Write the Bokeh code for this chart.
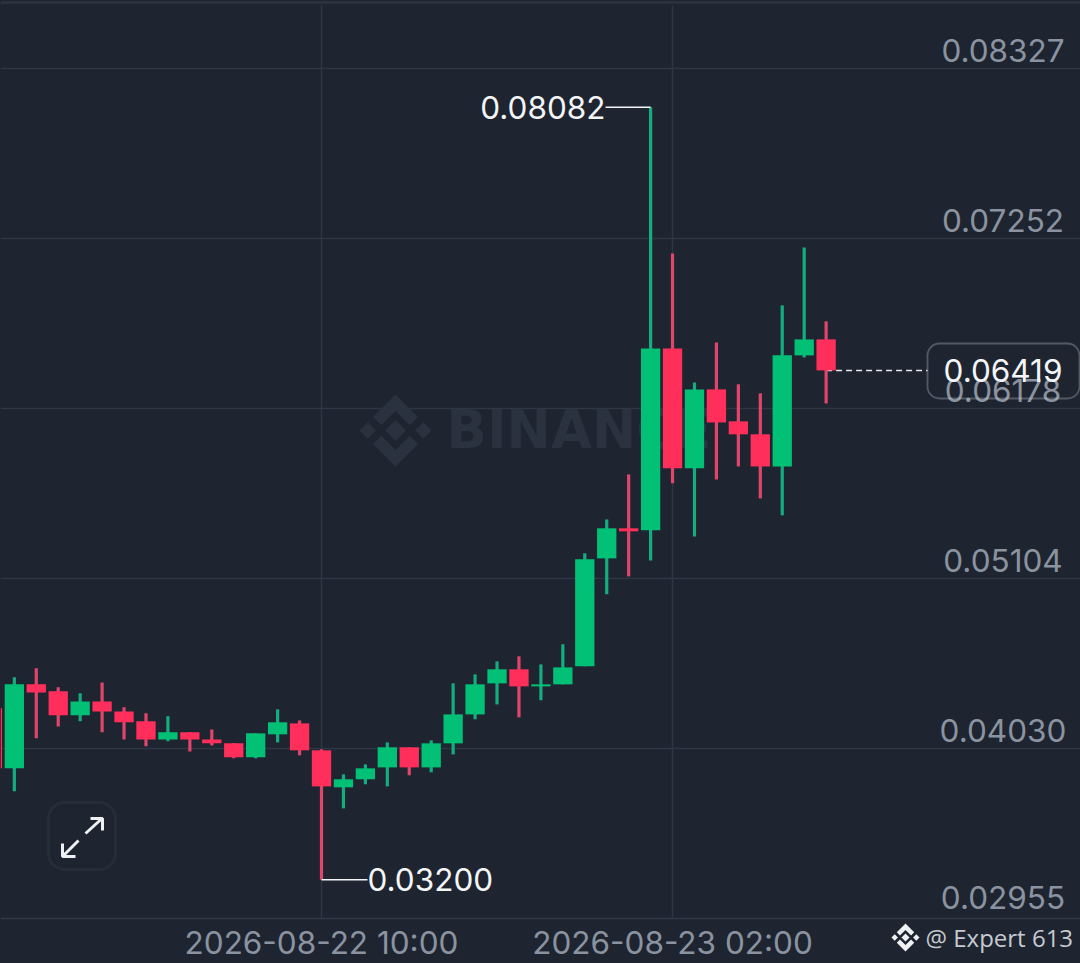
import pandas as pd
from bokeh.core.properties import value
from bokeh.embed import file_html
from bokeh.models import (BoxAnnotation, ColumnDataSource, DatetimeTickFormatter, FixedTicker,
                          GlobalInlineStyleSheet, Label, PolyAnnotation, Range1d)
from bokeh.plotting import figure
from bokeh.resources import INLINE

# ---- data -------------------------------------------------------------
start_time = "2026-08-21 19:00"
opens = [.04283, .03904, .04435, .04391, .04239, .04327, .04264, .04201, .04087, .04132, .04087,
         .04062, .03974, .04119, .04188, .04018, .03784, .03835, .03910, .04037, .03910, .04062,
         .04245, .04441, .04530, .04422, .04435, .04549, .05231, .05421, .05408, .06558, .05800,
         .06299, .06097, .06015, .05812, .06514, .06615]
highs = [.04283, .04479, .04536, .04416, .04378, .04447, .04290, .04252, .04233, .04132, .04150,
         .04062, .04125, .04277, .04207, .04024, .03866, .03929, .04068, .04037, .04081, .04441,
         .04498, .04580, .04612, .04561, .04688, .05263, .05477, .05762, .08082, .07158, .06343,
         .06596, .06331, .06274, .06830, .07196, .06729]
lows = [.03904, .03759, .04094, .04169, .04201, .04132, .04087, .04043, .04075, .04011, .04049,
        .03967, .03967, .04068, .03986, .03200, .03651, .03803, .03790, .03860, .03879, .03992,
        .04214, .04308, .04226, .04334, .04435, .04549, .05004, .05117, .05218, .05705, .05370,
        .05730, .05812, .05610, .05503, .06501, .06210]
closes = [.03904, .04435, .04384, .04239, .04327, .04264, .04195, .04087, .04132, .04087, .04062,
          .03974, .04125, .04195, .04018, .03790, .03835, .03904, .04037, .03910, .04062, .04245,
          .04435, .04530, .04422, .04435, .04542, .05225, .05421, .05402, .06558, .05800, .06299,
          .06090, .06015, .05812, .06514, .06615, .06419]
y_ticks = [.08327, .07252, .06178, .05104, .04030, .02955]
y_labels = ["0.08327", "0.07252", "0.06178", "0.05104", "0.04030", "0.02955"]
x_ticks = ["2026-08-22 10:00", "2026-08-23 02:00"]
last_price = closes[-1]

# ---- styling ----------------------------------------------------------
BG, GRID, AXIS_TXT, WHITE = "#1e2530", "#2e3743", "#8b93a0", "#f4f5f6"
GREEN, RED, GREEN_W, RED_W = "#02c076", "#ff2e5b", "#14ad7f", "#e0456c"
WM = "#29323e"
FONT = value("Inter")
SIZE = "31.5px"
HOUR = 3600000.0
T0 = pd.Timestamp(x_ticks[0]).value / 1e6
PX_HOUR = 21.94


def tx(px):
    return T0 + (px - 321) / PX_HOUR * HOUR


def py(px):
    return .08327 - (px - 68) * (.08327 - .02955) / 850


times = pd.date_range(start_time, periods=len(opens), freq="h")
up = [c >= o for o, c in zip(opens, closes)]
rows = dict(t=times, o=opens, h=highs, l=lows, c=closes,
            top=[max(a, b) for a, b in zip(opens, closes)], bot=[min(a, b) for a, b in zip(opens, closes)],
            fill=[GREEN if u else RED for u in up], wick=[GREEN_W if u else RED_W for u in up])
src = ColumnDataSource(rows)

p = figure(frame_width=1080, frame_height=963, x_axis_type="datetime", output_backend="svg", toolbar_location=None,
           x_range=Range1d(tx(0), tx(1080)), y_range=Range1d(py(963), py(0)),
           min_border=0, min_border_left=0, min_border_right=0, min_border_top=0, min_border_bottom=0,
           background_fill_color=BG, border_fill_color=BG, outline_line_color=None)
p.stylesheets = [GlobalInlineStyleSheet(css=f"html,body{{background:{BG};}}")]
p.yaxis.visible = False
p.yaxis.ticker = FixedTicker(ticks=y_ticks)
p.ygrid.ticker = FixedTicker(ticks=y_ticks)
p.ygrid.grid_line_color = GRID
p.ygrid.grid_line_width = 1.5
p.xgrid.visible = False
x_ms = [pd.Timestamp(s).value / 1e6 for s in x_ticks]
fmt = "%Y-%m-%d %H:%M"
ax = p.xaxis[0]
ax.ticker = FixedTicker(ticks=x_ms)
ax.fixed_location = y_ticks[-1]
ax.level = "underlay"
ax.formatter = DatetimeTickFormatter(milliseconds=fmt, seconds=fmt, minsec=fmt, minutes=fmt, hourmin=fmt,
                                     hours=fmt, days=fmt, months=fmt, years=fmt)
ax.axis_line_color = GRID
ax.axis_line_width = 1.5
ax.major_tick_line_color = GRID
ax.major_tick_line_width = 1.5
ax.major_tick_in = 913      # the date ticks run up the chart as its vertical rules
ax.major_tick_out = 0
ax.minor_tick_line_color = None
ax.major_label_text_font = "Inter"
ax.major_label_text_font_size = SIZE
ax.major_label_text_color = AXIS_TXT
ax.major_label_standoff = 4

# faint line along the top edge
p.segment([tx(0)], [py(2)], [tx(1080)], [py(2)], line_color="#2a323f", line_width=3)

# watermark (under the candles)
p.text([tx(446)], [py(429)], text=["BINANCE"], text_font=value("DejaVu Sans"), text_font_style="bold",
       text_font_size="53px", text_color=WM, text_baseline="middle", text_align="left")


def logo(cx, cy, r, color):
    u = r / 60.37
    parts = [
        [(38.171, 53.203), (62.0, 29.373), (85.841, 53.213), (99.701, 39.353), (62.0, 1.631), (24.311, 39.32)],
        [(38.171, 70.797), (62.0, 94.627), (85.841, 70.787), (99.701, 84.647), (62.0, 122.369), (24.311, 84.68)],
        [(1.631, 62), (15.49, 48.14), (29.35, 62), (15.49, 75.86)],
        [(94.65, 62), (108.51, 48.14), (122.37, 62), (108.51, 75.86)],
        [(62, 44.55), (79.44, 62), (62, 79.45), (44.56, 62)],
    ]
    for part in parts:
        p.add_layout(PolyAnnotation(xs=[cx + (a - 62) * u for a, _ in part], ys=[cy + (b - 62) * u for _, b in part],
                                    xs_units="canvas", ys_units="canvas", fill_color=color, fill_alpha=1,
                                    line_color=None, level="underlay" if color == WM else "overlay"))


logo(395, 430, 36, WM)
logo(905, 937, 14, "#f0f1f3")

# price line behind last candle
p.segment([times[-1]], [last_price], [tx(927)], [last_price], line_color="#e8eaed", line_width=1.5, line_dash="6 4")

# candles
p.segment("t", "h", "t", "l", source=src, line_color="wick", line_width=3.2)
p.vbar("t", top="top", bottom="bot", width=0.88 * HOUR, source=src, fill_color="fill", line_color="fill", line_width=0)

# y labels, drawn over the grid above each line
y_src = ColumnDataSource(dict(x=[tx(1002.5)] * len(y_ticks), y=y_ticks, label=y_labels, dy=[-18, -18, -18, -18, -18, -21]))
p.text("x", "y", text="label", y_offset="dy", source=y_src, text_font=FONT, text_font_size=SIZE, text_color=AXIS_TXT,
       text_align="center", text_baseline="middle")

# max / min callouts
i_hi, i_lo = highs.index(max(highs)), lows.index(min(lows))
p.segment([tx(605)], [highs[i_hi]], [times[i_hi]], [highs[i_hi]], line_color=WHITE, line_width=1.5)
p.text([tx(605)], [highs[i_hi]], text=[f"{highs[i_hi]:.5f}"], text_font=FONT, text_font_size=SIZE, text_color=WHITE,
       text_align="right", text_baseline="middle")
p.segment([times[i_lo]], [lows[i_lo]], [tx(367)], [lows[i_lo]], line_color=WHITE, line_width=1.5)
p.text([tx(367)], [lows[i_lo]], text=[f"{lows[i_lo]:.5f}"], text_font=FONT, text_font_size=SIZE, text_color=WHITE,
       text_align="left", text_baseline="middle")

# last price tag
p.add_layout(BoxAnnotation(left=927, right=1079, top=343, bottom=398, left_units="canvas",
                           right_units="canvas", top_units="canvas", bottom_units="canvas", fill_alpha=0,
                           line_color="#d5d8dc", line_width=1.8, border_radius=12))
p.text([tx(1002.5)], [last_price], text=[f"{last_price:.5f}"], text_font=FONT, text_font_size=SIZE, text_color=WHITE,
       text_align="center", text_baseline="middle")

# expand button
p.add_layout(BoxAnnotation(left=48, right=115, top=802, bottom=869, left_units="canvas",
                           right_units="canvas", top_units="canvas", bottom_units="canvas", fill_alpha=0,
                           line_color="#38414e", line_width=3, border_radius=16))
arrows_x = [[85, 101.5], [90, 102, 102], [78, 62], [62, 62, 75]]
arrows_y = [[833, 818], [818, 818, 830], [840, 856], [843, 856, 856]]
p.multi_line([[tx(a) for a in r] for r in arrows_x], [[py(a) for a in r] for r in arrows_y], line_color="#eef0f2", line_width=3)

# attribution below the axis
p.add_layout(Label(x=925, y=937, x_units="canvas", y_units="canvas", text="@ Expert 613", text_font="Open Sans",
                   text_font_size="24px", text_color="#c6cad0", text_baseline="middle", text_align="left",
                   level="overlay"))

open("out.html", "w").write(file_html(p, INLINE))
